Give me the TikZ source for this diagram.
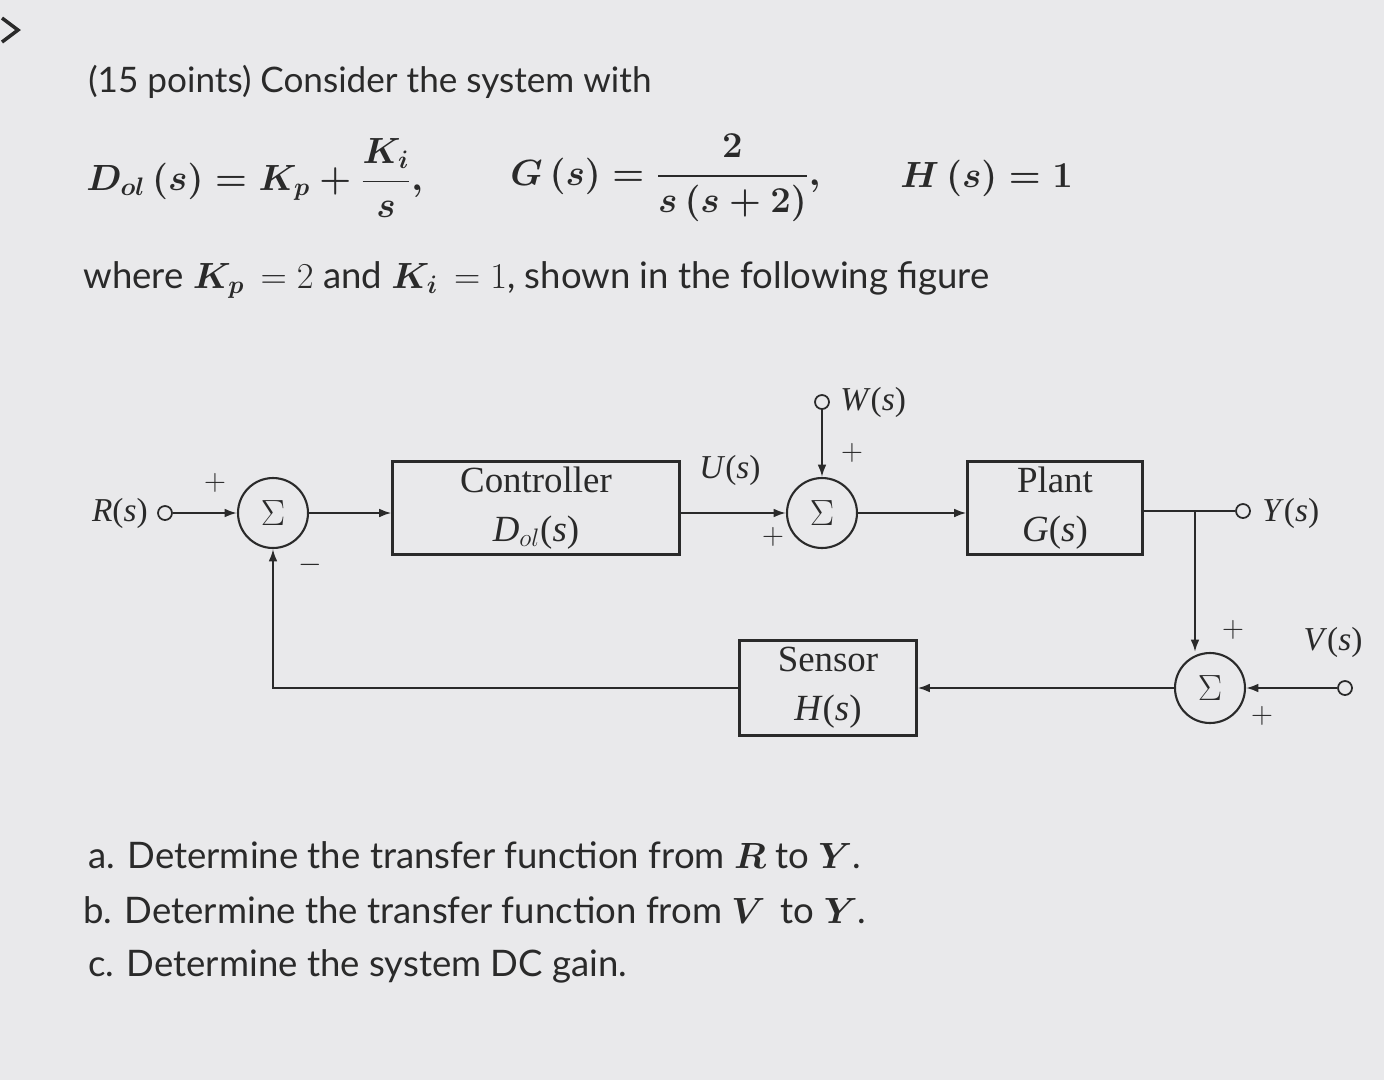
\documentclass[tikz,border=0pt]{standalone}
\usepackage{amsmath}
\usepackage{fontspec}
\setmainfont{Lato}
\newfontfamily\dia{Liberation Serif}
\usetikzlibrary{arrows.meta}
\definecolor{bg}{HTML}{E9E9EB}
\definecolor{ink}{HTML}{2A2A2A}
\newcommand{\di}[1]{\textit{#1}}
\begin{document}
\begin{tikzpicture}[x=0.02cm,y=-0.02cm,
  txt/.style={anchor=west,inner sep=0,text=ink,font=\fontsize{20.8}{26}\selectfont},
  eqs/.style={anchor=west,inner sep=0,text=ink,font=\fontsize{22}{26}\selectfont},
  blk/.style={draw=ink,line width=1.2pt,inner sep=0,font=\dia\fontsize{21}{28}\selectfont,text=ink,align=center},
  sumc/.style={circle,draw=ink,line width=1.2pt,minimum size=1.4cm,inner sep=0,font=\fontsize{22}{24}\selectfont,text=ink},
  port/.style={circle,draw=ink,line width=1pt,minimum size=0.28cm,inner sep=0},
  lab/.style={inner sep=0,font=\dia\fontsize{19}{22}\selectfont,text=ink},
  sgn/.style={inner sep=0,font=\dia\fontsize{16}{18}\selectfont,text=ink},
  ln/.style={draw=ink,line width=1.2pt},
  ar/.style={ln,-{Latex[length=7pt,width=5pt]}}]
\fill[bg] (0,0) rectangle (1384,1080);
\useasboundingbox (0,0) rectangle (1384,1080);
\draw[ink,line width=2pt] (2,18) -- (18,30) -- (2,42);
\node[txt,font=\fontsize{20}{24}\selectfont] (t1) at (88,82) {(15 points) Consider the system with};
\node[eqs] (eq1) at (86,178) {$\boldsymbol{D_{ol}\left(s\right)=K_p+\dfrac{K_i}{s},}$};
\node[eqs] (eq2) at (510,178) {$\boldsymbol{G\left(s\right)=\dfrac{2}{s\left(s+2\right)},}$};
\node[eqs] (eq3) at (900,178) {$\boldsymbol{H\left(s\right)=1}$};
\node[txt] (t2) at (83,280) {where $\boldsymbol{K_p}\,=2$ and $\boldsymbol{K_i}\,=1$, shown in the following figure};
% diagram
\node[port] (r) at (165,513) {};
\node[lab,anchor=east] (rl) at (148,513) {\di{R}(\di{s})};
\node[sumc] (s1) at (273,513) {$\Sigma$};
\node[blk,minimum width=5.74cm,minimum height=1.86cm] (ctl) at (536,508) {Controller\\\di{D}$_{ol}$(\di{s})};
\node[sumc] (s2) at (822,513) {$\Sigma$};
\node[port] (w) at (822,402) {};
\node[lab,anchor=west] (wl) at (840,402) {\di{W}(\di{s})};
\node[lab] (ul) at (730,470) {\di{U}(\di{s})};
\node[blk,minimum width=3.5cm,minimum height=1.86cm] (pl) at (1055,508) {Plant\\\di{G}(\di{s})};
\node[port] (y) at (1243,511) {};
\node[lab,anchor=west] (yl) at (1262,513) {\di{Y}(\di{s})};
\node[blk,minimum width=3.54cm,minimum height=1.9cm] (sen) at (828,688) {Sensor\\\di{H}(\di{s})};
\node[sumc] (s3) at (1210,688) {$\Sigma$};
\node[port] (v) at (1345,688) {};
\node[lab] (vl) at (1333,642) {\di{V}(\di{s})};
\coordinate (br) at (1195,511);
\coordinate (fb) at (273,688);
\draw[ar] (r) -- (s1);
\draw[ar] (s1) -- (ctl.west|-s1);
\draw[ar] (ctl.east|-s1) -- (s2);
\draw[ar] (w) -- (s2);
\draw[ar] (s2) -- (pl.west|-s2);
\draw[ln] (pl.east|-y) -- (y);
\draw[ar] (br) -- (br|-s3.north);
\draw[ar] (v) -- (s3);
\draw[ar] (s3) -- (sen.east|-s3);
\draw[ar] (sen.west|-s3) -- (fb) -- (s1);
\node[sgn] at (215,483) {$+$};
\node[sgn] at (310,565) {$-$};
\node[sgn] at (852,453) {$+$};
\node[sgn] at (773,537) {$+$};
\node[sgn] at (1233,630) {$+$};
\node[sgn] at (1262,716) {$+$};
\node[txt] (qa) at (88,855) {a. Determine the transfer function from $\boldsymbol{R}$ to $\boldsymbol{Y}$.};
\node[txt] (qb) at (83,910) {b. Determine the transfer function from $\boldsymbol{V}$\, to $\boldsymbol{Y}$.};
\node[txt] (qc) at (88,966) {c. Determine the system DC gain.};
\end{tikzpicture}
\end{document}
